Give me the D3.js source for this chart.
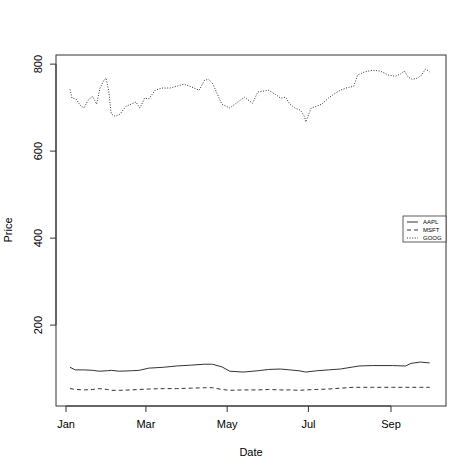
<!DOCTYPE html>
<html><head><meta charset="utf-8">
<script src="https://cdn.jsdelivr.net/npm/d3@7"></script>
<style>body{margin:0;background:#fff}text{font-family:"Liberation Sans",Arial,sans-serif}</style>
</head><body><svg id="svg" width="474" height="474"></svg>
<script>
// trading days given as day-of-year offsets from 2016-01-01
const days = [3,7,14,20,25,31,34,40,49,55,62,73,83,94,104,110,117,123,133,144,152,161,168,175,180,188,197,206,216,220,230,245,255,259,266,273];
const aapl = [103,97,97,96,94,95,96,94,95,96,101,103,106,108,110,110,104,94,92,95,98,99,97,95,92,95,97,99,104,106,107,107,106,112,115,113];
const msft = [54,52,51,52,54,52,50,50,51,52,53,54,54,55,56,56,52,50,51,51,52,51,51,50,51,52,53,55,57,57,57,57,57,57,57,57];
const googDays = [3,4.5,7.5,10.5,13.5,16.5,20,23,25.5,28.5,30,32,34,37,40.5,45,49,52.5,55.5,59,62,67,72,78,83,88.5,93,100,104,107,110,117,123,129,134,140,144,152,157,161,165,168,172,176,179,180,184,188,192,197,201,206,210,216,219,224,230,236,242,247,251,254,257,260,264,267,270,273];
const goog = [742,722,720,706,699,717,726,708,745,763,768,740,685,680,685,703,708,713,699,722,720,740,745,745,749,754,749,740,763,765,756,708,699,713,724,710,736,740,731,722,724,708,699,694,680,667,699,703,708,722,731,740,745,749,775,782,786,784,775,772,777,784,770,765,768,775,789,782];
const xTicks = ["2016-01-01","2016-03-01","2016-05-01","2016-07-01","2016-09-01"];
const yTicks = [200,400,600,800];
const series = [
  {name:"AAPL", days:days, values:aapl, dash:null},
  {name:"MSFT", days:days, values:msft, dash:"4,3"},
  {name:"GOOG", days:googDays, values:goog, dash:"1,1.6"}
];

const svg = d3.select("#svg");
const parse = d3.timeParse("%Y-%m-%d");
const start = parse("2016-01-01");
const toDate = d => new Date(start.getTime() + d * 864e5);
const x = d3.scaleTime().domain([start, parse("2016-09-01")]).range([66, 391]);
const y = d3.scaleLinear().domain([14, 821]).range([406, 55]);
const col = "#333";

svg.append("rect").attr("x",56).attr("y",55).attr("width",390).attr("height",351)
  .attr("fill","none").attr("stroke",col);

const line = d3.line().x(d => x(d[0])).y(d => y(d[1]));
series.forEach(s => {
  svg.append("path").datum(s.days.map((d,i) => [toDate(d), s.values[i]]))
    .attr("d", line).attr("fill","none").attr("stroke",col).attr("stroke-width",1)
    .attr("stroke-dasharray", s.dash);
});

// x axis
const xt = xTicks.map(parse);
svg.append("line").attr("x1",x(xt[0])).attr("x2",x(xt[xt.length-1])).attr("y1",406).attr("y2",406).attr("stroke",col);
xt.forEach(t => {
  svg.append("line").attr("x1",x(t)).attr("x2",x(t)).attr("y1",406).attr("y2",412).attr("stroke",col);
  svg.append("text").attr("x",x(t)).attr("y",428).attr("text-anchor","middle").attr("font-size",11).text(d3.timeFormat("%b")(t));
});
// y axis
svg.append("line").attr("x1",56).attr("x2",56).attr("y1",y(200)).attr("y2",y(800)).attr("stroke",col);
yTicks.forEach(v => {
  svg.append("line").attr("x1",50).attr("x2",56).attr("y1",y(v)).attr("y2",y(v)).attr("stroke",col);
  svg.append("text").attr("transform",`translate(42,${y(v)}) rotate(-90)`).attr("text-anchor","middle").attr("font-size",11).text(v);
});
svg.append("text").attr("x",251).attr("y",456).attr("text-anchor","middle").attr("font-size",11).text("Date");
svg.append("text").attr("transform","translate(12,230) rotate(-90)").attr("text-anchor","middle").attr("font-size",11).text("Price");

// legend
const lg = svg.append("g");
lg.append("rect").attr("x",403).attr("y",216).attr("width",43).attr("height",26).attr("fill","#fff").attr("stroke",col).attr("stroke-width",0.8);
series.forEach((s,i) => {
  const yy = 222 + i*8;
  lg.append("line").attr("x1",407).attr("x2",418).attr("y1",yy).attr("y2",yy).attr("stroke",col).attr("stroke-dasharray",s.dash);
  lg.append("text").attr("x",423).attr("y",yy+2).attr("font-size",6).text(s.name);
});
</script></body></html>
